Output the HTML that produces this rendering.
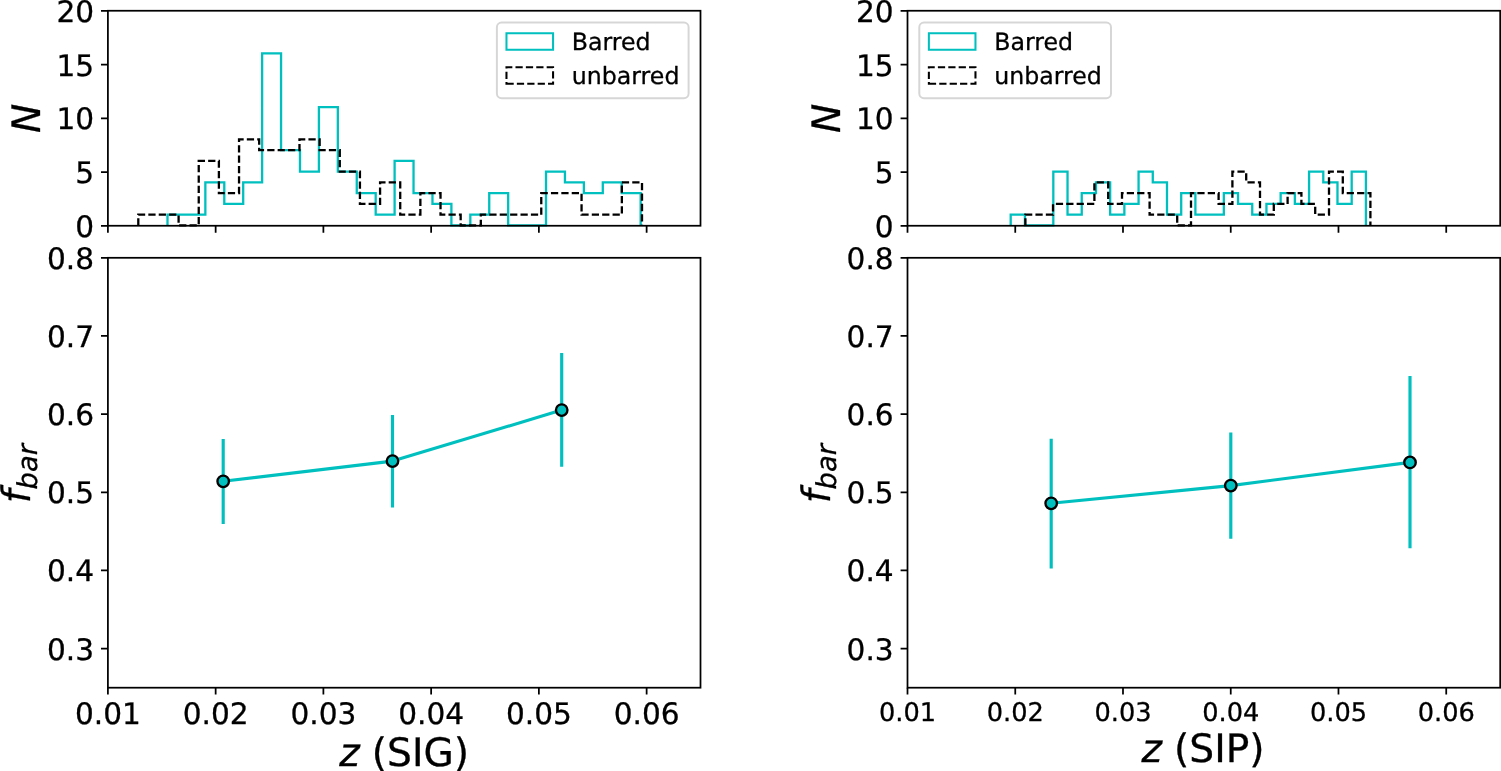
<!DOCTYPE html>
<html lang="en">
<head>
<meta charset="utf-8">
<title>Bar fraction versus redshift</title>
<style>
html,body{margin:0;padding:0;background:#fff;}
body{width:1501px;height:771px;overflow:hidden;}
svg{display:block;}
text{text-rendering:geometricPrecision;white-space:pre;stroke:#000;stroke-width:0.3px;stroke-linejoin:round;}
</style>
</head>
<body>
<svg width="1501" height="771" viewBox="0 0 1501 771" font-family='"DejaVu Sans", "Liberation Sans", sans-serif' fill="#000">
<rect width="1501" height="771" fill="#fff"/>
<g>
<path d="M167.5 225.45L167.5 214.7L186.43 214.7L186.43 214.7L205.35 214.7L205.35 182.45L224.28 182.45L224.28 203.95L243.2 203.95L243.2 182.45L262.13 182.45L262.13 53.45L281.06 53.45L281.06 150.2L299.98 150.2L299.98 171.7L318.91 171.7L318.91 107.2L337.83 107.2L337.83 171.7L356.76 171.7L356.76 193.2L375.69 193.2L375.69 214.7L394.61 214.7L394.61 160.95L413.54 160.95L413.54 193.2L432.46 193.2L432.46 203.95L451.39 203.95L451.39 225.45L470.32 225.45L470.32 214.7L489.24 214.7L489.24 193.2L508.17 193.2L508.17 225.45L527.09 225.45L527.09 225.45L546.02 225.45L546.02 171.7L564.95 171.7L564.95 182.45L583.87 182.45L583.87 193.2L602.8 193.2L602.8 182.45L621.72 182.45L621.72 193.2L640.65 193.2L640.65 225.45" fill="none" stroke="#00bfbf" stroke-width="2.3" stroke-linejoin="miter"/>
<path d="M138.3 225.45L138.3 214.7L158.45 214.7L158.45 214.7L178.6 214.7L178.6 225.45L198.74 225.45L198.74 160.95L218.89 160.95L218.89 193.2L239.04 193.2L239.04 139.45L259.19 139.45L259.19 150.2L279.34 150.2L279.34 150.2L299.48 150.2L299.48 139.45L319.63 139.45L319.63 150.2L339.78 150.2L339.78 171.7L359.93 171.7L359.93 203.95L380.08 203.95L380.08 182.45L400.22 182.45L400.22 214.7L420.37 214.7L420.37 193.2L440.52 193.2L440.52 214.7L460.67 214.7L460.67 225.45L480.82 225.45L480.82 214.7L500.96 214.7L500.96 214.7L521.11 214.7L521.11 214.7L541.26 214.7L541.26 193.2L561.41 193.2L561.41 193.2L581.56 193.2L581.56 214.7L601.7 214.7L601.7 214.7L621.85 214.7L621.85 182.45L642 182.45L642 225.45" fill="none" stroke="#000" stroke-width="2.3" stroke-linejoin="miter" stroke-dasharray="7.2531 3.1365"/>
<rect x="107.9" y="10.75" width="592.6" height="215" fill="none" stroke="#000" stroke-width="1.75"/>
<path d="M107.9 225.75v6.91M215.65 225.75v6.91M323.39 225.75v6.91M431.14 225.75v6.91M538.88 225.75v6.91M646.63 225.75v6.91" stroke="#000" stroke-width="1.75" fill="none"/>
<path d="M107.9 225.75h-6.91M107.9 172h-6.91M107.9 118.25h-6.91M107.9 64.5h-6.91M107.9 10.75h-6.91" stroke="#000" stroke-width="1.75" fill="none"/>
<text x="94.09" y="236.75" font-size="29.6" text-anchor="end">0</text>
<text x="94.09" y="183" font-size="29.6" text-anchor="end">5</text>
<text x="94.09" y="129.25" font-size="29.6" text-anchor="end">10</text>
<text x="94.09" y="75.5" font-size="29.6" text-anchor="end">15</text>
<text x="94.09" y="21.75" font-size="29.6" text-anchor="end">20</text>
<rect x="496.9" y="22.45" width="191.7" height="75.8" rx="4.74" fill="#fff" fill-opacity="0.8" stroke="#ccc" stroke-opacity="0.8" stroke-width="1.97"/>
<path d="M506.47 49.75H553.07V33.18H506.47Z" fill="none" stroke="#00bfbf" stroke-width="2.05"/>
<path d="M506.47 83.75H553.07V67.18H506.47Z" fill="none" stroke="#000" stroke-width="2.05" stroke-dasharray="7.2531 3.1365"/>
<text x="571.76" y="49.55" font-size="23.68">Barred</text>
<text x="571.76" y="83.55" font-size="23.68">unbarred</text>
<path d="M223.2 438.9V523.9M392.5 415V507.4M561.7 352.9V466.8" fill="none" stroke="#00bfbf" stroke-width="3.15"/>
<path d="M223.2 481.3L392.5 461.1L561.7 410.1" fill="none" stroke="#00bfbf" stroke-width="3.15" stroke-linejoin="round"/>
<circle cx="223.2" cy="481.3" r="5.75" fill="#00bfbf" stroke="#000" stroke-width="2.35"/>
<circle cx="392.5" cy="461.1" r="5.75" fill="#00bfbf" stroke="#000" stroke-width="2.35"/>
<circle cx="561.7" cy="410.1" r="5.75" fill="#00bfbf" stroke="#000" stroke-width="2.35"/>
<rect x="107.9" y="257.8" width="592.6" height="429.9" fill="none" stroke="#000" stroke-width="1.75"/>
<path d="M107.9 687.7v6.91M215.65 687.7v6.91M323.39 687.7v6.91M431.14 687.7v6.91M538.88 687.7v6.91M646.63 687.7v6.91" stroke="#000" stroke-width="1.75" fill="none"/>
<text x="107.9" y="723.8" font-size="29.6" text-anchor="middle">0.01</text>
<text x="215.65" y="723.8" font-size="29.6" text-anchor="middle">0.02</text>
<text x="323.39" y="723.8" font-size="29.6" text-anchor="middle">0.03</text>
<text x="431.14" y="723.8" font-size="29.6" text-anchor="middle">0.04</text>
<text x="538.88" y="723.8" font-size="29.6" text-anchor="middle">0.05</text>
<text x="646.63" y="723.8" font-size="29.6" text-anchor="middle">0.06</text>
<path d="M107.9 648.62h-6.91M107.9 570.45h-6.91M107.9 492.29h-6.91M107.9 414.13h-6.91M107.9 335.96h-6.91M107.9 257.8h-6.91" stroke="#000" stroke-width="1.75" fill="none"/>
<text x="94.09" y="659.61" font-size="29.6" text-anchor="end">0.3</text>
<text x="94.09" y="581.45" font-size="29.6" text-anchor="end">0.4</text>
<text x="94.09" y="503.29" font-size="29.6" text-anchor="end">0.5</text>
<text x="94.09" y="425.12" font-size="29.6" text-anchor="end">0.6</text>
<text x="94.09" y="346.96" font-size="29.6" text-anchor="end">0.7</text>
<text x="94.09" y="268.8" font-size="29.6" text-anchor="end">0.8</text>
<text x="404.2" y="766" font-size="39.15" text-anchor="middle"><tspan font-style="italic">z</tspan><tspan dx="-0.5"> (SIG)</tspan></text>
<text transform="translate(40.1 118.25) rotate(-90)" font-size="39.15" font-style="italic" text-anchor="middle">N</text>
<text transform="translate(29.9 473.65) rotate(-90)" font-size="39.15" font-style="italic" text-anchor="middle">f<tspan font-size="27.4" dy="6.91">bar</tspan></text>
</g>
<g>
<path d="M1010.7 225.45L1010.7 214.7L1024.91 214.7L1024.91 225.45L1039.12 225.45L1039.12 225.45L1053.32 225.45L1053.32 171.7L1067.53 171.7L1067.53 214.7L1081.74 214.7L1081.74 193.2L1095.95 193.2L1095.95 182.45L1110.16 182.45L1110.16 214.7L1124.36 214.7L1124.36 203.95L1138.57 203.95L1138.57 171.7L1152.78 171.7L1152.78 182.45L1166.99 182.45L1166.99 214.7L1181.2 214.7L1181.2 193.2L1195.4 193.2L1195.4 214.7L1209.61 214.7L1209.61 214.7L1223.82 214.7L1223.82 193.2L1238.03 193.2L1238.03 203.95L1252.24 203.95L1252.24 214.7L1266.44 214.7L1266.44 203.95L1280.65 203.95L1280.65 193.2L1294.86 193.2L1294.86 203.95L1309.07 203.95L1309.07 171.7L1323.28 171.7L1323.28 182.45L1337.48 182.45L1337.48 203.95L1351.69 203.95L1351.69 171.7L1365.9 171.7L1365.9 225.45" fill="none" stroke="#00bfbf" stroke-width="2.3" stroke-linejoin="miter"/>
<path d="M1025.4 225.45L1025.4 214.7L1039.2 214.7L1039.2 214.7L1053 214.7L1053 203.95L1066.8 203.95L1066.8 203.95L1080.6 203.95L1080.6 203.95L1094.4 203.95L1094.4 182.45L1108.2 182.45L1108.2 203.95L1122 203.95L1122 193.2L1135.8 193.2L1135.8 193.2L1149.6 193.2L1149.6 214.7L1163.4 214.7L1163.4 214.7L1177.2 214.7L1177.2 225.45L1191 225.45L1191 193.2L1204.8 193.2L1204.8 193.2L1218.6 193.2L1218.6 203.95L1232.4 203.95L1232.4 171.7L1246.2 171.7L1246.2 182.45L1260 182.45L1260 214.7L1273.8 214.7L1273.8 203.95L1287.6 203.95L1287.6 193.2L1301.4 193.2L1301.4 203.95L1315.2 203.95L1315.2 214.7L1329 214.7L1329 171.7L1342.8 171.7L1342.8 193.2L1356.6 193.2L1356.6 193.2L1370.4 193.2L1370.4 225.45" fill="none" stroke="#000" stroke-width="2.3" stroke-linejoin="miter" stroke-dasharray="7.2531 3.1365"/>
<rect x="907.5" y="10.75" width="592.7" height="215" fill="none" stroke="#000" stroke-width="1.75"/>
<path d="M907.5 225.75v6.91M1015.25 225.75v6.91M1122.99 225.75v6.91M1230.74 225.75v6.91M1338.48 225.75v6.91M1446.23 225.75v6.91" stroke="#000" stroke-width="1.75" fill="none"/>
<path d="M907.5 225.75h-6.91M907.5 172h-6.91M907.5 118.25h-6.91M907.5 64.5h-6.91M907.5 10.75h-6.91" stroke="#000" stroke-width="1.75" fill="none"/>
<text x="893.69" y="236.75" font-size="29.6" text-anchor="end">0</text>
<text x="893.69" y="183" font-size="29.6" text-anchor="end">5</text>
<text x="893.69" y="129.25" font-size="29.6" text-anchor="end">10</text>
<text x="893.69" y="75.5" font-size="29.6" text-anchor="end">15</text>
<text x="893.69" y="21.75" font-size="29.6" text-anchor="end">20</text>
<rect x="919.3" y="22.45" width="191.7" height="75.8" rx="4.74" fill="#fff" fill-opacity="0.8" stroke="#ccc" stroke-opacity="0.8" stroke-width="1.97"/>
<path d="M928.87 49.75H975.47V33.18H928.87Z" fill="none" stroke="#00bfbf" stroke-width="2.05"/>
<path d="M928.87 83.75H975.47V67.18H928.87Z" fill="none" stroke="#000" stroke-width="2.05" stroke-dasharray="7.2531 3.1365"/>
<text x="994.16" y="49.55" font-size="23.68">Barred</text>
<text x="994.16" y="83.55" font-size="23.68">unbarred</text>
<path d="M1051.2 438.7V568.4M1230.8 432.5V538.7M1410 376.1V548.2" fill="none" stroke="#00bfbf" stroke-width="3.15"/>
<path d="M1051.2 503.3L1230.8 485.6L1410 462.4" fill="none" stroke="#00bfbf" stroke-width="3.15" stroke-linejoin="round"/>
<circle cx="1051.2" cy="503.3" r="5.75" fill="#00bfbf" stroke="#000" stroke-width="2.35"/>
<circle cx="1230.8" cy="485.6" r="5.75" fill="#00bfbf" stroke="#000" stroke-width="2.35"/>
<circle cx="1410" cy="462.4" r="5.75" fill="#00bfbf" stroke="#000" stroke-width="2.35"/>
<rect x="907.5" y="257.8" width="592.7" height="429.9" fill="none" stroke="#000" stroke-width="1.75"/>
<path d="M907.5 687.7v6.91M1015.25 687.7v6.91M1122.99 687.7v6.91M1230.74 687.7v6.91M1338.48 687.7v6.91M1446.23 687.7v6.91" stroke="#000" stroke-width="1.75" fill="none"/>
<text x="907.5" y="720.8" font-size="25.65" text-anchor="middle">0.01</text>
<text x="1015.25" y="720.8" font-size="25.65" text-anchor="middle">0.02</text>
<text x="1122.99" y="720.8" font-size="25.65" text-anchor="middle">0.03</text>
<text x="1230.74" y="720.8" font-size="25.65" text-anchor="middle">0.04</text>
<text x="1338.48" y="720.8" font-size="25.65" text-anchor="middle">0.05</text>
<text x="1446.23" y="720.8" font-size="25.65" text-anchor="middle">0.06</text>
<path d="M907.5 648.62h-6.91M907.5 570.45h-6.91M907.5 492.29h-6.91M907.5 414.13h-6.91M907.5 335.96h-6.91M907.5 257.8h-6.91" stroke="#000" stroke-width="1.75" fill="none"/>
<text x="893.69" y="659.61" font-size="29.6" text-anchor="end">0.3</text>
<text x="893.69" y="581.45" font-size="29.6" text-anchor="end">0.4</text>
<text x="893.69" y="503.29" font-size="29.6" text-anchor="end">0.5</text>
<text x="893.69" y="425.12" font-size="29.6" text-anchor="end">0.6</text>
<text x="893.69" y="346.96" font-size="29.6" text-anchor="end">0.7</text>
<text x="893.69" y="268.8" font-size="29.6" text-anchor="end">0.8</text>
<text x="1203.05" y="762.4" font-size="39.15" text-anchor="middle"><tspan font-style="italic">z</tspan><tspan dx="-0.5"> (SIP)</tspan></text>
<text transform="translate(839.7 118.25) rotate(-90)" font-size="39.15" font-style="italic" text-anchor="middle">N</text>
<text transform="translate(829.5 473.65) rotate(-90)" font-size="39.15" font-style="italic" text-anchor="middle">f<tspan font-size="27.4" dy="6.91">bar</tspan></text>
</g>
</svg>
</body>
</html>
